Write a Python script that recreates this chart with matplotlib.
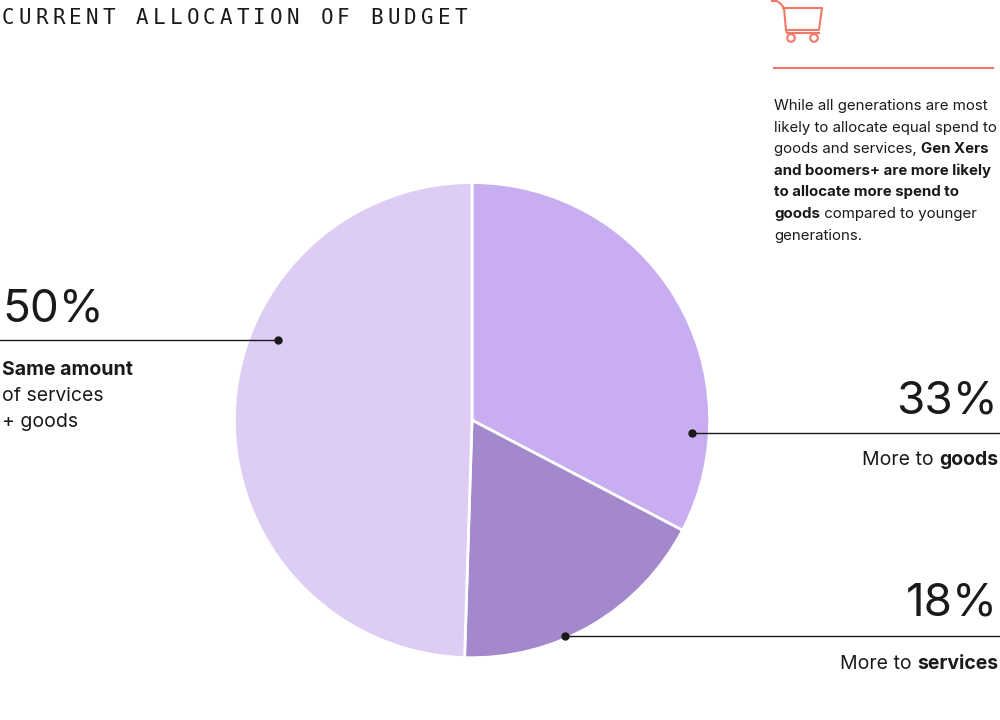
import matplotlib
matplotlib.use("Agg")
import matplotlib.pyplot as plt
import numpy as np
from matplotlib.patches import Circle

labels = ["More to goods", "More to services", "Same amount of services + goods"]
values = [33, 18, 50]
colors = ["#c8adf0", "#a389cb", "#ddcdf5"]

TITLE = "CURRENT ALLOCATION OF BUDGET"
PARAGRAPH = [
    [("While all generations are most", False)],
    [("likely to allocate equal spend to", False)],
    [("goods and services, ", False), ("Gen Xers", True)],
    [("and boomers+ are more likely", True)],
    [("to allocate more spend to", True)],
    [("goods", True), (" compared to younger", False)],
    [("generations.", False)],
]

FONT = "Inter"
INK = "#1a1a1a"
ACCENT = "#f07868"

fig = plt.figure(figsize=(10, 7.2), dpi=100)

# pie: centre (472, 420) px from top, radius 297 px
pax = fig.add_axes([0.175, 0.004, 0.594, 0.825])
pax.pie(values, colors=colors, startangle=90, counterclock=False,
        wedgeprops=dict(edgecolor="white", linewidth=2))
pax.set_aspect("equal")

# overlay in pixel coordinates
ax = fig.add_axes([0, 0, 1, 1], facecolor="none")
ax.set_xlim(0, 1000)
ax.set_ylim(720, 0)
ax.axis("off")

for i, ch in enumerate(TITLE):
    ax.text(2 + i * 16.75, 18, ch, family="DejaVu Sans Mono", fontsize=15,
            va="center", ha="left", color=INK)

# leader lines with dots
leaders = [((0, 278), 340), ((692, 1000), 433), ((565, 1000), 636)]
for (x0, x1), y in leaders:
    ax.plot([x0, x1], [y, y], color=INK, lw=1)
dots = [(278, 340), (692, 433), (565, 636)]
for x, y in dots:
    ax.plot(x, y, "o", color=INK, ms=5)

fig.canvas.draw()
rend = fig.canvas.get_renderer()
inv = ax.transData.inverted()


def width_of(t):
    bb = t.get_window_extent(rend)
    p0 = inv.transform((bb.x0, bb.y0))
    p1 = inv.transform((bb.x1, bb.y1))
    return p1[0] - p0[0]


def right_line(segs, x_right, y, size):
    x = x_right
    for s, bold in reversed(segs):
        t = ax.text(x, y, s, family=FONT, fontsize=size, ha="right", va="baseline",
                    color=INK, fontweight="bold" if bold else "normal")
        x -= width_of(t)


def left_line(segs, x, y, size):
    for s, bold in segs:
        t = ax.text(x, y, s, family=FONT, fontsize=size, ha="left", va="baseline",
                    color=INK, fontweight="bold" if bold else "normal")
        x += width_of(t)


# percentages and labels
ax.text(2, 322, f"{values[2]}%", family=FONT, fontsize=33, color=INK, va="baseline")
left_line([("Same amount", True)], 2, 375, 14)
left_line([("of services", False)], 2, 401, 14)
left_line([("+ goods", False)], 2, 427, 14)

ax.text(998, 414, f"{values[0]}%", family=FONT, fontsize=33, color=INK,
        va="baseline", ha="right")
right_line([("More to ", False), ("goods", True)], 998, 465, 14)
ax.text(998, 615, f"{values[1]}%", family=FONT, fontsize=33, color=INK,
        va="baseline", ha="right")
right_line([("More to ", False), ("services", True)], 998, 669, 14)

# paragraph
for i, segs in enumerate(PARAGRAPH):
    left_line(segs, 774, 110 + i * 21.6, 10.8)

# cart icon
ax.plot([774, 993], [68, 68], color=ACCENT, lw=1.5)
cart_x = [772, 777, 781, 784, 786, 819, 822, 783]
cart_y = [1, 1, 4, 8, 30, 30, 8, 8]
ax.plot(cart_x, cart_y, color=ACCENT, lw=1.5, solid_joinstyle="round")
ax.plot([786, 787, 819], [30, 33, 33], color=ACCENT, lw=1.5)
for cx in (791, 814):
    ax.add_patch(Circle((cx, 38), 3.8, fill=False, edgecolor=ACCENT, lw=1.5))

fig.savefig("out.png", dpi=100)
